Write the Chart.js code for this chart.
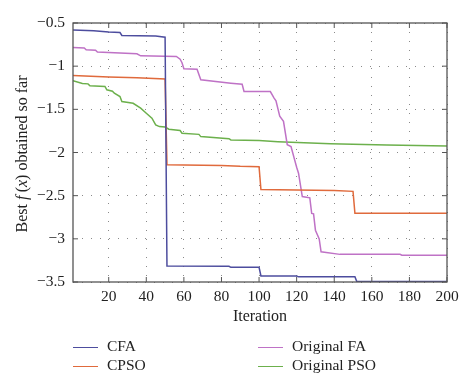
<!DOCTYPE html>
<html>
<head>
<meta charset="utf-8">
<script src="https://cdn.jsdelivr.net/npm/chart.js@4"></script>
<style>
body{margin:0;background:#fff;}
#wrap{position:relative;width:474px;height:391px;}
#wrap canvas{position:absolute;left:0;top:0;}
.leg{position:absolute;font-family:"Liberation Serif",serif;font-size:15.5px;color:#222;line-height:18px;}
.leg span{display:inline-block;width:25px;height:0;border-top:1.5px solid;vertical-align:middle;margin-right:9px;}
</style>
</head>
<body>
<div id="wrap">
<canvas id="c" width="474" height="391"></canvas>
<div id="legend"></div>
</div>
<script>
// best value per iteration, read at the break points of each curve
const cfaIter=[1,12,20,26,27,45,50,51,84,85,100,101,120,121,151,152,200]
const cfaBest=[-0.58,-0.59,-0.605,-0.61,-0.645,-0.65,-0.665,-3.315,-3.318,-3.33,-3.33,-3.43,-3.43,-3.44,-3.44,-3.495,-3.495]

const cpsoIter=[1,20,35,50,51,60,80,90,100,101,120,140,150,151,200]
const cpsoBest=[-1.108,-1.125,-1.135,-1.148,-2.142,-2.145,-2.15,-2.16,-2.165,-2.43,-2.435,-2.44,-2.45,-2.705,-2.705]

const faIter=[1,7,8,13,14,35,37,56,58,59,60,67,69,85,91,92,106,108,109,111,113,115,117,120,121,123,127,128,129,130,132,133,143,175,176,200]
const faBest=[-0.783,-0.79,-0.81,-0.815,-0.837,-0.856,-0.88,-0.888,-0.92,-0.96,-1.03,-1.035,-1.158,-1.197,-1.21,-1.294,-1.294,-1.37,-1.40,-1.58,-1.64,-1.91,-1.93,-2.17,-2.24,-2.51,-2.525,-2.706,-2.71,-2.90,-3.0,-3.15,-3.18,-3.18,-3.19,-3.19]

const psoIter=[1,6,9,10,18,19,22,23,26,27,33,37,40,43,45,47,50,52,58,59,68,69,84,85,100,110,138,168,200]
const psoBest=[-1.17,-1.2,-1.205,-1.228,-1.235,-1.274,-1.29,-1.313,-1.352,-1.41,-1.43,-1.487,-1.545,-1.603,-1.68,-1.70,-1.705,-1.73,-1.745,-1.777,-1.79,-1.816,-1.84,-1.855,-1.862,-1.875,-1.90,-1.913,-1.925]

const seriesNames=['CFA','CPSO','Original FA','Original PSO']
const seriesColors=['#4d4d9e','#e06a3c','#bf72c6','#6cb04c']
const xTicks=[20,40,60,80,100,120,140,160,180,200]
const yTicks=[-0.5,-1,-1.5,-2,-2.5,-3,-3.5]

const serif='"Liberation Serif", serif'
const pairs=[[cfaIter,cfaBest],[cpsoIter,cpsoBest],[faIter,faBest],[psoIter,psoBest]]

const datasets=pairs.map((p,i)=>({
    label:seriesNames[i],
    data:p[0].map((x,j)=>({x:x,y:p[1][j]})),
    borderColor:seriesColors[i],
    borderWidth:1.5,
    pointRadius:0,
    fill:false,
    tension:0
}))

// frame, inner ticks and axis titles in matlab style
const framePlugin={
    id:'frame',
    afterDraw(chart){
        const ctx=chart.ctx
        const a=chart.chartArea
        const xs=chart.scales.x, ys=chart.scales.y
        ctx.save()
        ctx.strokeStyle='#555'
        ctx.lineWidth=1.3
        ctx.strokeRect(a.left,a.top,a.right-a.left,a.bottom-a.top)
        ctx.lineWidth=1
        ctx.beginPath()
        xTicks.forEach(v=>{
            const px=xs.getPixelForValue(v)
            ctx.moveTo(px,a.bottom);ctx.lineTo(px,a.bottom-5)
            ctx.moveTo(px,a.top);ctx.lineTo(px,a.top+5)
        })
        yTicks.forEach(v=>{
            const py=ys.getPixelForValue(v)
            ctx.moveTo(a.left,py);ctx.lineTo(a.left+5,py)
            ctx.moveTo(a.right,py);ctx.lineTo(a.right-5,py)
        })
        ctx.stroke()

        ctx.fillStyle='#222'
        ctx.textBaseline='middle'
        ctx.textAlign='center'
        ctx.font='16px '+serif
        ctx.fillText('Iteration',(a.left+a.right)/2,317)

        // y title with italic f and x
        const parts=[['Best ',false],['f',true],['\u2009(',false],['x',true],[') obtained so far',false]]
        let total=0
        parts.forEach(p=>{ctx.font=(p[1]?'italic ':'')+'16px '+serif;total+=ctx.measureText(p[0]).width})
        ctx.translate(23,154)
        ctx.rotate(-Math.PI/2)
        ctx.textAlign='left'
        let x=-total/2
        parts.forEach(p=>{
            ctx.font=(p[1]?'italic ':'')+'16px '+serif
            ctx.fillText(p[0],x,0)
            x+=ctx.measureText(p[0]).width
        })
        ctx.restore()
    }
}

new Chart(document.getElementById('c'),{
    type:'line',
    data:{datasets:datasets},
    options:{
        responsive:false,
        animation:false,
        layout:{padding:{top:23,right:27,bottom:0,left:0}},
        plugins:{legend:{display:false},tooltip:{enabled:false}},
        scales:{
            x:{
                type:'linear',min:1,max:200,
                afterBuildTicks(s){s.ticks=xTicks.map(v=>({value:v}))},
                afterFit(s){s.height=109},
                grid:{color:'#8a8a8a',lineWidth:1,drawTicks:false},
                border:{display:false,dash:[1,8]},
                ticks:{padding:6,color:'#222',font:{family:serif,size:15.5},maxRotation:0}
            },
            y:{
                type:'linear',min:-3.5,max:-0.5,
                afterBuildTicks(s){s.ticks=yTicks.map(v=>({value:v}))},
                afterFit(s){s.width=73},
                grid:{color:'#8a8a8a',lineWidth:1,drawTicks:false},
                border:{display:false,dash:[1,8]},
                ticks:{padding:8,color:'#222',font:{family:serif,size:15.5},
                    callback:v=>'\u2212'+Math.abs(v)}
            }
        }
    },
    plugins:[framePlugin]
})

// legend in two columns under the plot
const legPos=[[73,337],[73,356],[258,337],[258,356]]
document.getElementById('legend').innerHTML=seriesNames.map((n,i)=>
    `<div class="leg" style="left:${legPos[i][0]}px;top:${legPos[i][1]}px"><span style="border-color:${seriesColors[i]}"></span>${n}</div>`).join('')
</script>
</body>
</html>
